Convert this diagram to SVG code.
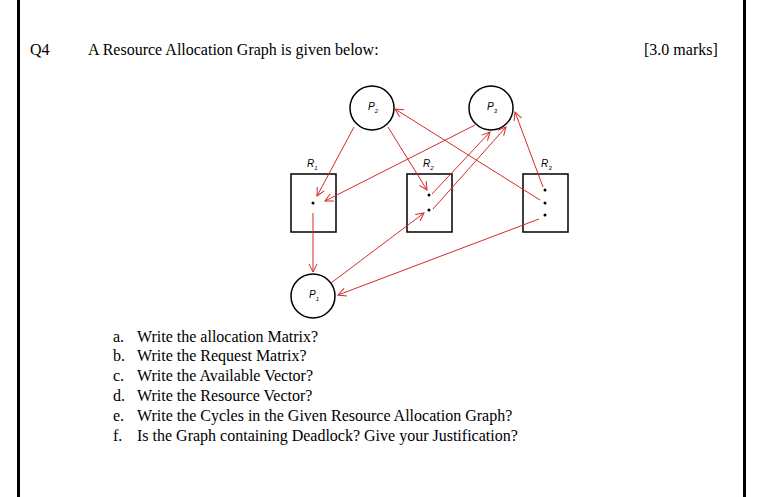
<svg xmlns="http://www.w3.org/2000/svg" width="761" height="497" viewBox="0 0 761 497">
<style>
.t{font-family:"Liberation Serif",serif;font-size:16px;fill:#000}
.n{fill:#fff;stroke:#000;stroke-width:1.5}
.l{font-family:"Liberation Sans",sans-serif;font-size:10px;font-style:italic;fill:#000}
.s{font-size:6px}
.e{stroke:#d42a2a;stroke-width:1;fill:none;marker-end:url(#a)}
</style>
<defs><marker id="a" markerWidth="10" markerHeight="10" refX="9" refY="5" orient="auto" markerUnits="userSpaceOnUse"><path d="M1,1 L9,5 L1,9" fill="none" stroke="#d42a2a" stroke-width="1"/></marker></defs>
<rect width="761" height="497" fill="#fff"/>
<rect x="17" y="0" width="3" height="497" fill="#000"/>
<rect x="743" y="0" width="3" height="497" fill="#000"/>
<text class="t" x="30" y="55">Q4</text>
<text class="t" x="88" y="55">A Resource Allocation Graph is given below:</text>
<text class="t" x="644" y="55">[3.0 marks]</text>
<g id="P2"><circle class="n" cx="372" cy="108" r="22"/><text class="l" x="368" y="110">P<tspan class="s" dy="3">2</tspan></text></g>
<g id="P3"><circle class="n" cx="491" cy="108" r="22"/><text class="l" x="487" y="110">P<tspan class="s" dy="3">3</tspan></text></g>
<g id="P1"><circle class="n" cx="313" cy="296" r="22"/><text class="l" x="309" y="298">P<tspan class="s" dy="3">1</tspan></text></g>
<g id="R1"><rect class="n" x="291" y="174" width="45" height="58"/><text class="l" x="307" y="167">R<tspan class="s" dy="3">1</tspan></text><circle cx="313" cy="203" r="1.5"/></g>
<g id="R2"><rect class="n" x="407" y="174" width="45" height="58"/><text class="l" x="423" y="167">R<tspan class="s" dy="3">2</tspan></text><circle cx="429" cy="195" r="1.5"/><circle cx="429" cy="210" r="1.5"/></g>
<g id="R3"><rect class="n" x="523" y="174" width="45" height="58"/><text class="l" x="541" y="167">R<tspan class="s" dy="3">3</tspan></text><circle cx="545" cy="190" r="1.5"/><circle cx="545" cy="203" r="1.5"/><circle cx="545" cy="215" r="1.5"/></g>
<g id="edges">
<line class="e" x1="354" y1="127" x2="317" y2="196"/>
<line class="e" x1="475" y1="125" x2="325" y2="201"/>
<line class="e" x1="388" y1="127" x2="427" y2="190"/>
<line class="e" x1="432" y1="194" x2="490" y2="132"/>
<line class="e" x1="433" y1="209" x2="506" y2="127"/>
<line class="e" x1="540" y1="200" x2="395" y2="109"/>
<line class="e" x1="543" y1="187" x2="515" y2="112"/>
<line class="e" x1="313" y1="213" x2="313" y2="272"/>
<line class="e" x1="331" y1="283" x2="424" y2="213"/>
<line class="e" x1="539" y1="219" x2="338" y2="295"/>
</g>
<g class="t">
<text x="113" y="342">a.</text><text x="137" y="342">Write the allocation Matrix?</text>
<text x="113" y="361">b.</text><text x="137" y="361">Write the Request Matrix?</text>
<text x="113" y="381">c.</text><text x="137" y="381">Write the Available Vector?</text>
<text x="113" y="401">d.</text><text x="137" y="401">Write the Resource Vector?</text>
<text x="113" y="421">e.</text><text x="137" y="421">Write the Cycles in the Given Resource Allocation Graph?</text>
<text x="113" y="441">f.</text><text x="137" y="441">Is the Graph containing Deadlock? Give your Justification?</text>
</g>
</svg>
